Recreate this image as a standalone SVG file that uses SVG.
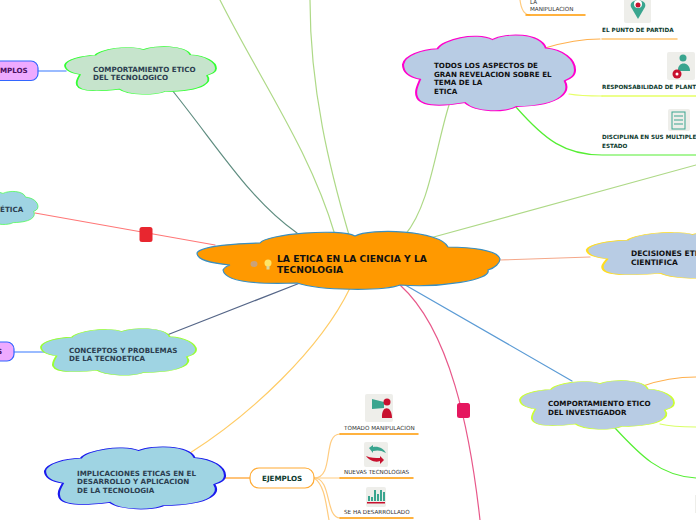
<svg xmlns="http://www.w3.org/2000/svg" width="696" height="520" viewBox="0 0 696 520">
<style>
text{font-family:"DejaVu Sans",Verdana,sans-serif;font-weight:bold;font-size:7.150px}
.cloud{stroke-width:1.200;vector-effect:non-scaling-stroke}
.c{fill:none;stroke-linecap:round;stroke-width:1.200}
.k{fill:#111}.s{fill:#2c3e50}.g{fill:#0d3b2e}
.n{font-weight:normal;font-size:5.650px;fill:#333}
.h{font-size:5.700px;fill:#0d3b2e}
.u{fill:none;stroke:#ff9900;stroke-width:1.500}
.ib{fill:#eeeeea}.t{fill:#3aa58f}.r{fill:#c8102e}
</style>
<defs>
<path id="cloud" d="M0 39C1 27 11 20 20 19C23 7 42-3 52 7C60-2 80-2 83 18C93 20 100 32 100 46C100 55 96 58 94 60C97 72 94 92 66 93C60 101 42 101 36 88C25 92 10 95 8 80C7 74 8 68 10 58C3 55 0 48 0 39Z"/>
</defs>
<g id="connectors" class="c">
<path d="M220 0C260 80 310 150 335 235" stroke="#aed987"/>
<path d="M310 0C310 90 330 170 349 235" stroke="#aed987"/>
<path d="M449 105C435 150 430 205 405 235" stroke="#aed987"/>
<path d="M696 165L430 238" stroke="#aed987"/>
<path d="M172 90C220 150 250 200 297 233" stroke="#5f8d80"/>
<path d="M35 213L215 245" stroke="#f77"/>
<path d="M500 260L590 257" stroke="#f5a88a"/>
<path d="M400 282L572 381" stroke="#5b9bd5"/>
<path d="M300 283L167 335" stroke="#556688"/>
<path d="M350 288C320 350 250 415 190 453" stroke="#ffcc66"/>
<path d="M400 285C450 330 470 430 480 520" stroke="#e8588a"/>
<path d="M38 71H66" stroke="#7aa5ff" stroke-width="1.500"/>
<path d="M14 352H44" stroke="#7aa5ff" stroke-width="1.500"/>
<path d="M225 478H250" stroke="#ffb04d" stroke-width="1.500"/>
<path d="M314 478C335 478 322 434 340 434" stroke="#ffcc80"/>
<path d="M314 478H340" stroke="#ffcc80"/>
<path d="M314 478C332 478 325 518 340 518" stroke="#ffcc80"/>
<path d="M314 478C325 485 326 505 329 520" stroke="#ffcc80"/>
<path d="M520 0C521 8 523 15 530 15" stroke="#ffcc80"/>
<path d="M545 48C565 42 585 39 600 39" stroke="#ffb04d"/>
<path d="M569 94C580 96 590 96 602 96" stroke="#e6ff66"/>
<path d="M516 107C545 140 565 155 602 155H696" stroke="#55ee33"/>
<path d="M643 386C660 380 680 377 696 377" stroke="#ffb04d"/>
<path d="M660 424C672 427 685 427 696 427" stroke="#d9ff66"/>
<path d="M615 428C640 455 660 476 696 478" stroke="#55ee33"/>
<path d="M602 39H677" stroke="#ffc673" stroke-width="1.500"/>
<path d="M602 96H696" stroke="#e6ff66" stroke-width="1.500"/>
<path d="M340 434H418M340 478H413M340 518H413M526 15H585" class="u"/>
</g>
<g id="marker-red"><rect x="139.500" y="227" width="13" height="15" rx="2.500" fill="#e8262f"/></g>
<g id="marker-pink"><rect x="457" y="403" width="13" height="15" rx="2.500" fill="#e5175f"/></g>
<g id="root">
<path d="M197 253C200 246 240 243 260 243C266 234 340 228 355 236C370 228 440 230 448 247C470 247 498 250 500 259C500 263 495 268 488 270C492 280 440 288 400 285C385 291 320 291 297 283C270 284 225 284 223 270C224 268 227 266 230 265C210 263 197 260 197 253Z" fill="#ff9900" stroke="#3a8fc0" stroke-width="1.200"/>
<ellipse cx="254" cy="264" rx="3.500" ry="3" fill="#c9a27a"/>
<circle cx="268" cy="263" r="3.500" fill="#ffe566"/><rect x="266.500" y="266" width="3" height="3.500" fill="#d9d9a0"/>
<text class="k" style="font-size:9.200px" x="277" y="262">LA ETICA EN LA CIENCIA Y LA</text>
<text class="k" style="font-size:9.200px" x="277" y="273">TECNOLOGIA</text>
</g>
<g id="todos">
<use href="#cloud" class="cloud" transform="translate(403 34) scale(1.720 .78)" fill="#b8cce4" stroke="#f0c"/>
<text class="k" x="434" y="68">TODOS LOS ASPECTOS DE</text>
<text class="k" x="434" y="77">GRAN REVELACION SOBRE EL</text>
<text class="k" x="434" y="85">TEMA DE LA</text>
<text class="k" x="434" y="94">ETICA</text>
</g>
<g id="tecnologico">
<use href="#cloud" class="cloud" transform="translate(65 46) scale(1.510 .49)" fill="#c6e4cc" stroke="#33ff33"/>
<text class="s" x="93" y="72">COMPORTAMIENTO ETICO</text>
<text class="s" x="93" y="80">DEL TECNOLOGICO</text>
</g>
<g id="ejemplos-top">
<rect x="-30" y="61" width="68" height="19.500" rx="7" fill="#eeaaff" stroke="#3366ff" stroke-width="1.200"/>
<text x="-5" y="73" fill="#4a1060">EMPLOS</text>
</g>
<g id="etica">
<use href="#cloud" class="cloud" transform="translate(-35 191) scale(.73 .34)" fill="#9fd4e3" stroke="#33ff33"/>
<text class="s" x="0" y="212">ÉTICA</text>
</g>
<g id="conceptos">
<use href="#cloud" class="cloud" transform="translate(41 328) scale(1.550 .48)" fill="#9fd4e3" stroke="#99ff33"/>
<text class="s" x="69" y="353">CONCEPTOS Y PROBLEMAS</text>
<text class="s" x="69" y="361">DE LA TECNOETICA</text>
</g>
<g id="ejemplos-left">
<rect x="-50" y="342" width="64" height="19" rx="7" fill="#eeaaff" stroke="#3366ff" stroke-width="1.200"/>
<text x="-3" y="354" fill="#4a1060">S</text>
</g>
<g id="implicaciones">
<use href="#cloud" class="cloud" transform="translate(45 446) scale(1.800 .64)" fill="#9fd4e3" stroke="#1a1aee"/>
<text class="s" x="77" y="476">IMPLICACIONES ETICAS EN EL</text>
<text class="s" x="77" y="484">DESARROLLO Y APLICACION</text>
<text class="s" x="77" y="493">DE LA TECNOLOGIA</text>
</g>
<g id="ejemplos">
<rect x="250" y="468" width="64" height="20" rx="9" fill="#fff" stroke="#ffaa33" stroke-width="1.200"/>
<text class="g" x="262" y="481">EJEMPLOS</text>
</g>
<g id="tomado">
<rect x="365" y="394" width="28" height="28" rx="2" class="ib"/>
<path d="M372 399L384 402V408L372 409Z" class="t"/>
<circle cx="387" cy="402" r="3.500" class="r"/><path d="M382 418C381 405 392 405 392 418Z" class="r"/>
<text class="n" x="344" y="430">TOMADO MANIPULACION</text>
</g>
<g id="nuevas">
<rect x="364" y="442" width="24" height="25" rx="2" class="ib"/>
<path d="M369 448L373 445V447C379 446 384 449 386 453C381 450 377 450 373 451V453Z" class="t"/>
<path d="M384 460L380 464V461C375 463 369 460 366 456C371 458 375 458 380 458V456Z" class="r"/>
<text class="n" x="344" y="474">NUEVAS TECNOLOGIAS</text>
</g>
<g id="desarrollado">
<rect x="366" y="487" width="20" height="20" rx="2" class="ib"/>
<path d="M368 501V496H370V501ZM371 501V497H373V501ZM374 501V490H376V501ZM377 501V494H379V501ZM380 501V490H382V501ZM383 501V492H385V501Z" class="t"/>
<rect x="367" y="502" width="18" height="1.500" class="r"/>
<text class="n" x="344" y="514">SE HA DESARROLLADO</text>
</g>
<g id="manipulacion">
<text class="n" x="530" y="4">LA</text>
<text class="n" x="530" y="11">MANIPULACION</text>
</g>
<g id="partida">
<rect x="624" y="-5" width="27" height="28" rx="2" class="ib"/>
<path d="M638 19L631 7C628-2 648-2 645 7Z" class="t"/><circle cx="638" cy="4" r="4" fill="#fff"/><circle cx="638" cy="5" r="2.500" class="r"/>
<text class="h" x="602" y="32">EL PUNTO DE PARTIDA</text>
</g>
<g id="responsabilidad">
<rect x="667" y="52" width="28" height="28" rx="2" class="ib"/>
<circle cx="683" cy="58" r="3.500" class="t"/><path d="M678 71C677 61 690 61 690 71Z" class="t"/>
<circle cx="677" cy="74" r="4.500" class="r"/><circle cx="677" cy="74" r="1.500" fill="#fff"/>
<text class="h" x="602" y="89">RESPONSABILIDAD DE PLANTI</text>
</g>
<g id="disciplina">
<rect x="668" y="109" width="22" height="22" rx="2" class="ib"/>
<rect x="672" y="112" width="13" height="17" fill="none" stroke="#3aa58f"/>
<path d="M674 116H683M674 120H683M674 124H683" stroke="#3aa58f"/>
<text class="h" x="602" y="139">DISCIPLINA EN SUS MULTIPLE</text>
<text class="h" x="602" y="148">ESTADO</text>
</g>
<g id="decisiones">
<use href="#cloud" class="cloud" transform="translate(587 231) scale(2.030 .48)" fill="#b8cce4" stroke="#ffdd22"/>
<text class="k" style="font-size:7.500px" x="631" y="256">DECISIONES ETI</text>
<text class="k" style="font-size:7.500px" x="631" y="265">CIENTIFICA</text>
</g>
<g id="investigador">
<use href="#cloud" class="cloud" transform="translate(520 380) scale(1.540 .5)" fill="#b8cce4" stroke="#ccff33"/>
<text class="k" x="548" y="406">COMPORTAMIENTO ETICO</text>
<text class="k" x="548" y="415">DEL INVESTIGADOR</text>
</g>
<rect id="edge-icon" x="695" y="495" width="1" height="18" fill="#eeeeea"/>
</svg>
